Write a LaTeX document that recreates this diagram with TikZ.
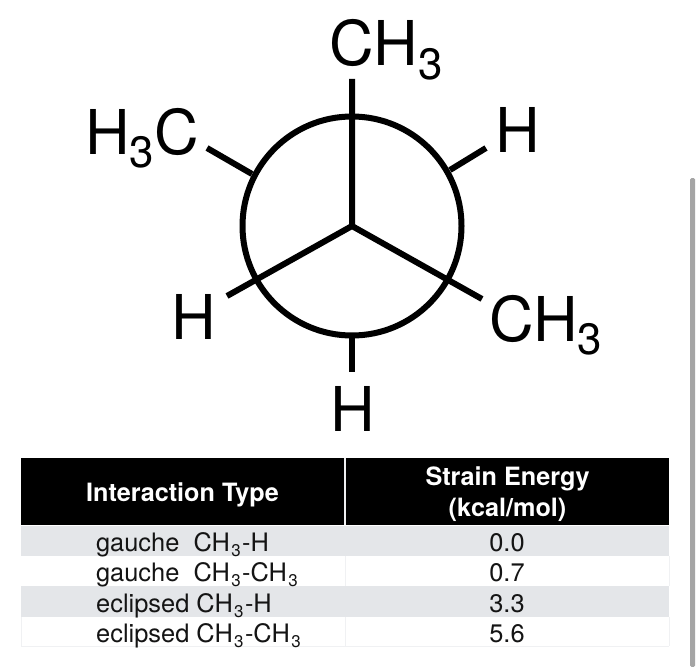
\documentclass[tikz,border=0pt]{standalone}
\usepackage{fontspec}
\setmainfont{TeX Gyre Heros}
\usetikzlibrary{calc}
\tikzset{
  bond/.style={line width=6bp,black},
  atom/.style={inner sep=0pt,font=\fontsize{62}{62}\selectfont,anchor=base west},
  hdr/.style={inner sep=0pt,text=white,font=\fontsize{25.3}{31}\selectfont\bfseries,align=center},
  cell/.style={inner sep=0pt,font=\fontsize{25.5}{28}\selectfont,text=black!92},
  rowline/.style={draw=rowl,line width=0.7bp}
}
\definecolor{rowg}{RGB}{228,230,233}
\definecolor{rowl}{RGB}{240,241,243}
\definecolor{scrollg}{RGB}{165,165,165}
\newcommand{\sub}[1]{\raisebox{-0.22em}{\fontsize{44}{44}\selectfont #1}}
\newcommand{\tsub}[1]{\raisebox{-0.2em}{\fontsize{17}{17}\selectfont\hspace{0.08em}#1\hspace{0.08em}}}
\begin{document}
\begin{tikzpicture}[x=1bp,y=-1bp]
\useasboundingbox (0,0) rectangle (700,667);
\fill[white] (0,0) rectangle (700,667);
% scrollbar
\fill[scrollg,rounded corners=1.5bp] (690,178) rectangle (695,667);
% Newman projection
\coordinate (c) at (352,226);
\node[draw=black,line width=6bp,fill=none,shape=circle,minimum size=219bp,inner sep=0pt] (ring) at (352,226) {};
\coordinate (t) at (352,79);
\coordinate (ll) at (227,296);
\coordinate (lr) at (482,299);
\coordinate (ul0) at (207,148);
\coordinate (ul1) at (252,174);
\coordinate (ur0) at (486,148);
\coordinate (ur1) at (450,170);
\coordinate (b0) at (352,336);
\coordinate (b1) at (352,372);
\draw[bond,line join=round] (t) -- (c) -- (ll);
\draw[bond,line join=round] (c) -- (lr);
\draw[bond] (ul0) -- (ul1);
\draw[bond] (ur0) -- (ur1);
\draw[bond] (b0) -- (b1);
\node[atom] (a1) at (329.5,66) {CH\sub{3}};
\node[atom] (a2) at (85,154) {H\sub{3}C};
\node[atom] (a3) at (495.5,152) {H};
\node[atom] (a4) at (171,339) {H};
\node[atom] (a5) at (489,341) {CH\sub{3}};
\node[atom] (a6) at (330,431) {H};
% table
\fill[black] (21,458) rectangle (669,525);
\fill[rowg!60!white] (344,458) rectangle (346,525);
\fill[rowg] (21,525.5) rectangle (669,556);
\fill[rowg] (21,586) rectangle (669,617);
\draw[rowline] (345,556) -- (345,586);
\draw[rowline] (345,617) -- (345,646);
\draw[rowline] (21,646) -- (669,646);
\draw[rowline] (669,556) -- (669,586);
\draw[rowline] (669,617) -- (669,646);
\draw[rowline] (21,617) -- (21,646);
\node[hdr] (h1) at (182.5,495) {Interaction Type};
\node[hdr] (h2) at (507.5,494.5) {Strain Energy\\(kcal/mol)};
\node[cell,anchor=base west] (r1a) at (96,551) {gauche\hspace{0.28em} CH\tsub{3}-H};
\node[cell,anchor=base west] (r2a) at (96,581) {gauche\hspace{0.28em} CH\tsub{3}-CH\tsub{3}};
\node[cell,anchor=base west] (r3a) at (96,612) {eclipsed CH\tsub{3}-H};
\node[cell,anchor=base west] (r4a) at (96,642) {eclipsed CH\tsub{3}-CH\tsub{3}};
\node[cell,anchor=base] (r1b) at (507,551) {0.0};
\node[cell,anchor=base] (r2b) at (507,581) {0.7};
\node[cell,anchor=base] (r3b) at (507,612) {3.3};
\node[cell,anchor=base] (r4b) at (507,642) {5.6};
\end{tikzpicture}
\end{document}
